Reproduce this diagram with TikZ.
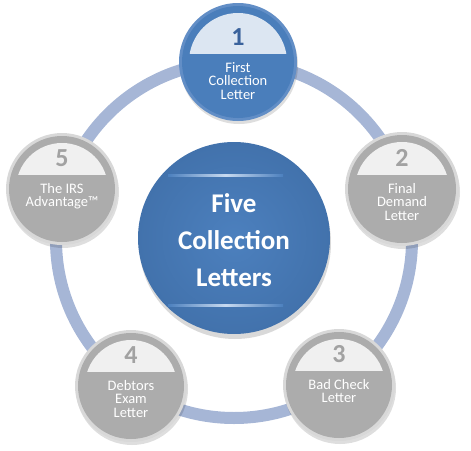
\documentclass[tikz,border=0pt]{standalone}
\usepackage{fontspec}
\setmainfont{Carlito}
\usetikzlibrary{shadows}
\definecolor{ringc}{RGB}{166,182,214}
\definecolor{brim}{RGB}{98,142,198}
\definecolor{bbody}{RGB}{74,126,187}
\definecolor{bband}{RGB}{220,230,242}
\definecolor{bnum}{RGB}{58,98,156}
\definecolor{grim}{RGB}{216,216,216}
\definecolor{gbody}{RGB}{172,172,172}
\definecolor{gband}{RGB}{240,240,240}
\definecolor{gnum}{RGB}{162,162,162}
\definecolor{cblue}{RGB}{76,128,190}
\definecolor{cedge}{RGB}{66,114,172}
\definecolor{chigh}{RGB}{200,218,240}
\tikzset{
  steptext/.style={text=white, align=center, inner sep=0pt, anchor=north,
    font=\fontsize{14.5}{13.5}\selectfont},
  numtext/.style={inner sep=0pt, font=\bfseries\fontsize{26}{26}\selectfont},
  centertext/.style={text=white, align=center, inner sep=0pt,
    font=\bfseries\fontsize{27}{37}\selectfont},
}
% #1 name, #2 x, #3 y, #4 radius, #5 scheme, #6 number, #7 text, #8 content shift
\newcommand{\stepcirc}[8]{%
  \fill[black,opacity=0.13] ({#2+1},{#3+3}) circle ({(#4)*1pt});
  \node[circle,fill=#5rim,minimum size={2*#4pt},inner sep=0pt] (#1) at (#2,#3) {};
  \fill[#5body] (#1.center) circle ({(#4-3)*1pt});
  \begin{scope}
    \clip (#1.center) circle ({(#4-10)*1pt});
    \fill[#5band] ({#2-#4},{#3-#4}) rectangle ({#2+#4},{#3-14+#8});
  \end{scope}
  \node[numtext,text=#5num] (#1num) at (#2,{#3-31+#8}) {#6};
  \node[steptext] (#1text) at (#2,{#3-6+#8}) {#7};
}
\begin{document}
\begin{tikzpicture}[x=1pt,y=-1pt]
\useasboundingbox (0,0) rectangle (471,450);
% ring
\node[circle,draw=ringc,line width=12pt,minimum size=356pt,inner sep=0pt] (ring) at (234,240) {};
% central circle
\fill[black,opacity=0.15] (235,243) circle (96pt);
\shade[inner color=cblue,outer color=cedge] (234,238) circle (96pt);
\node[circle,minimum size=192pt,inner sep=0pt] (core) at (234,238) {};
\shade[left color=cblue,right color=cblue,middle color=chigh] (168,174.3) rectangle (283,176);
\shade[left color=cblue,right color=cblue,middle color=chigh] (168,304.3) rectangle (283,306);
\node[centertext] (coretext) at (234,240) {Five\\Collection\\Letters};
% steps
\stepcirc{s1}{238}{62}{59}{b}{1}{First\\Collection\\Letter}{6}
\stepcirc{s2}{402}{189}{57}{g}{2}{Final\\Demand\\Letter}{0}
\stepcirc{s3}{339}{385}{56}{g}{3}{Bad Check\\Letter}{0}
\stepcirc{s4}{131}{386}{56}{g}{4}{Debtors\\Exam\\Letter}{0}
\stepcirc{s5}{62}{189}{56}{g}{5}{The IRS\\Advantage™}{0}
\end{tikzpicture}
\end{document}
